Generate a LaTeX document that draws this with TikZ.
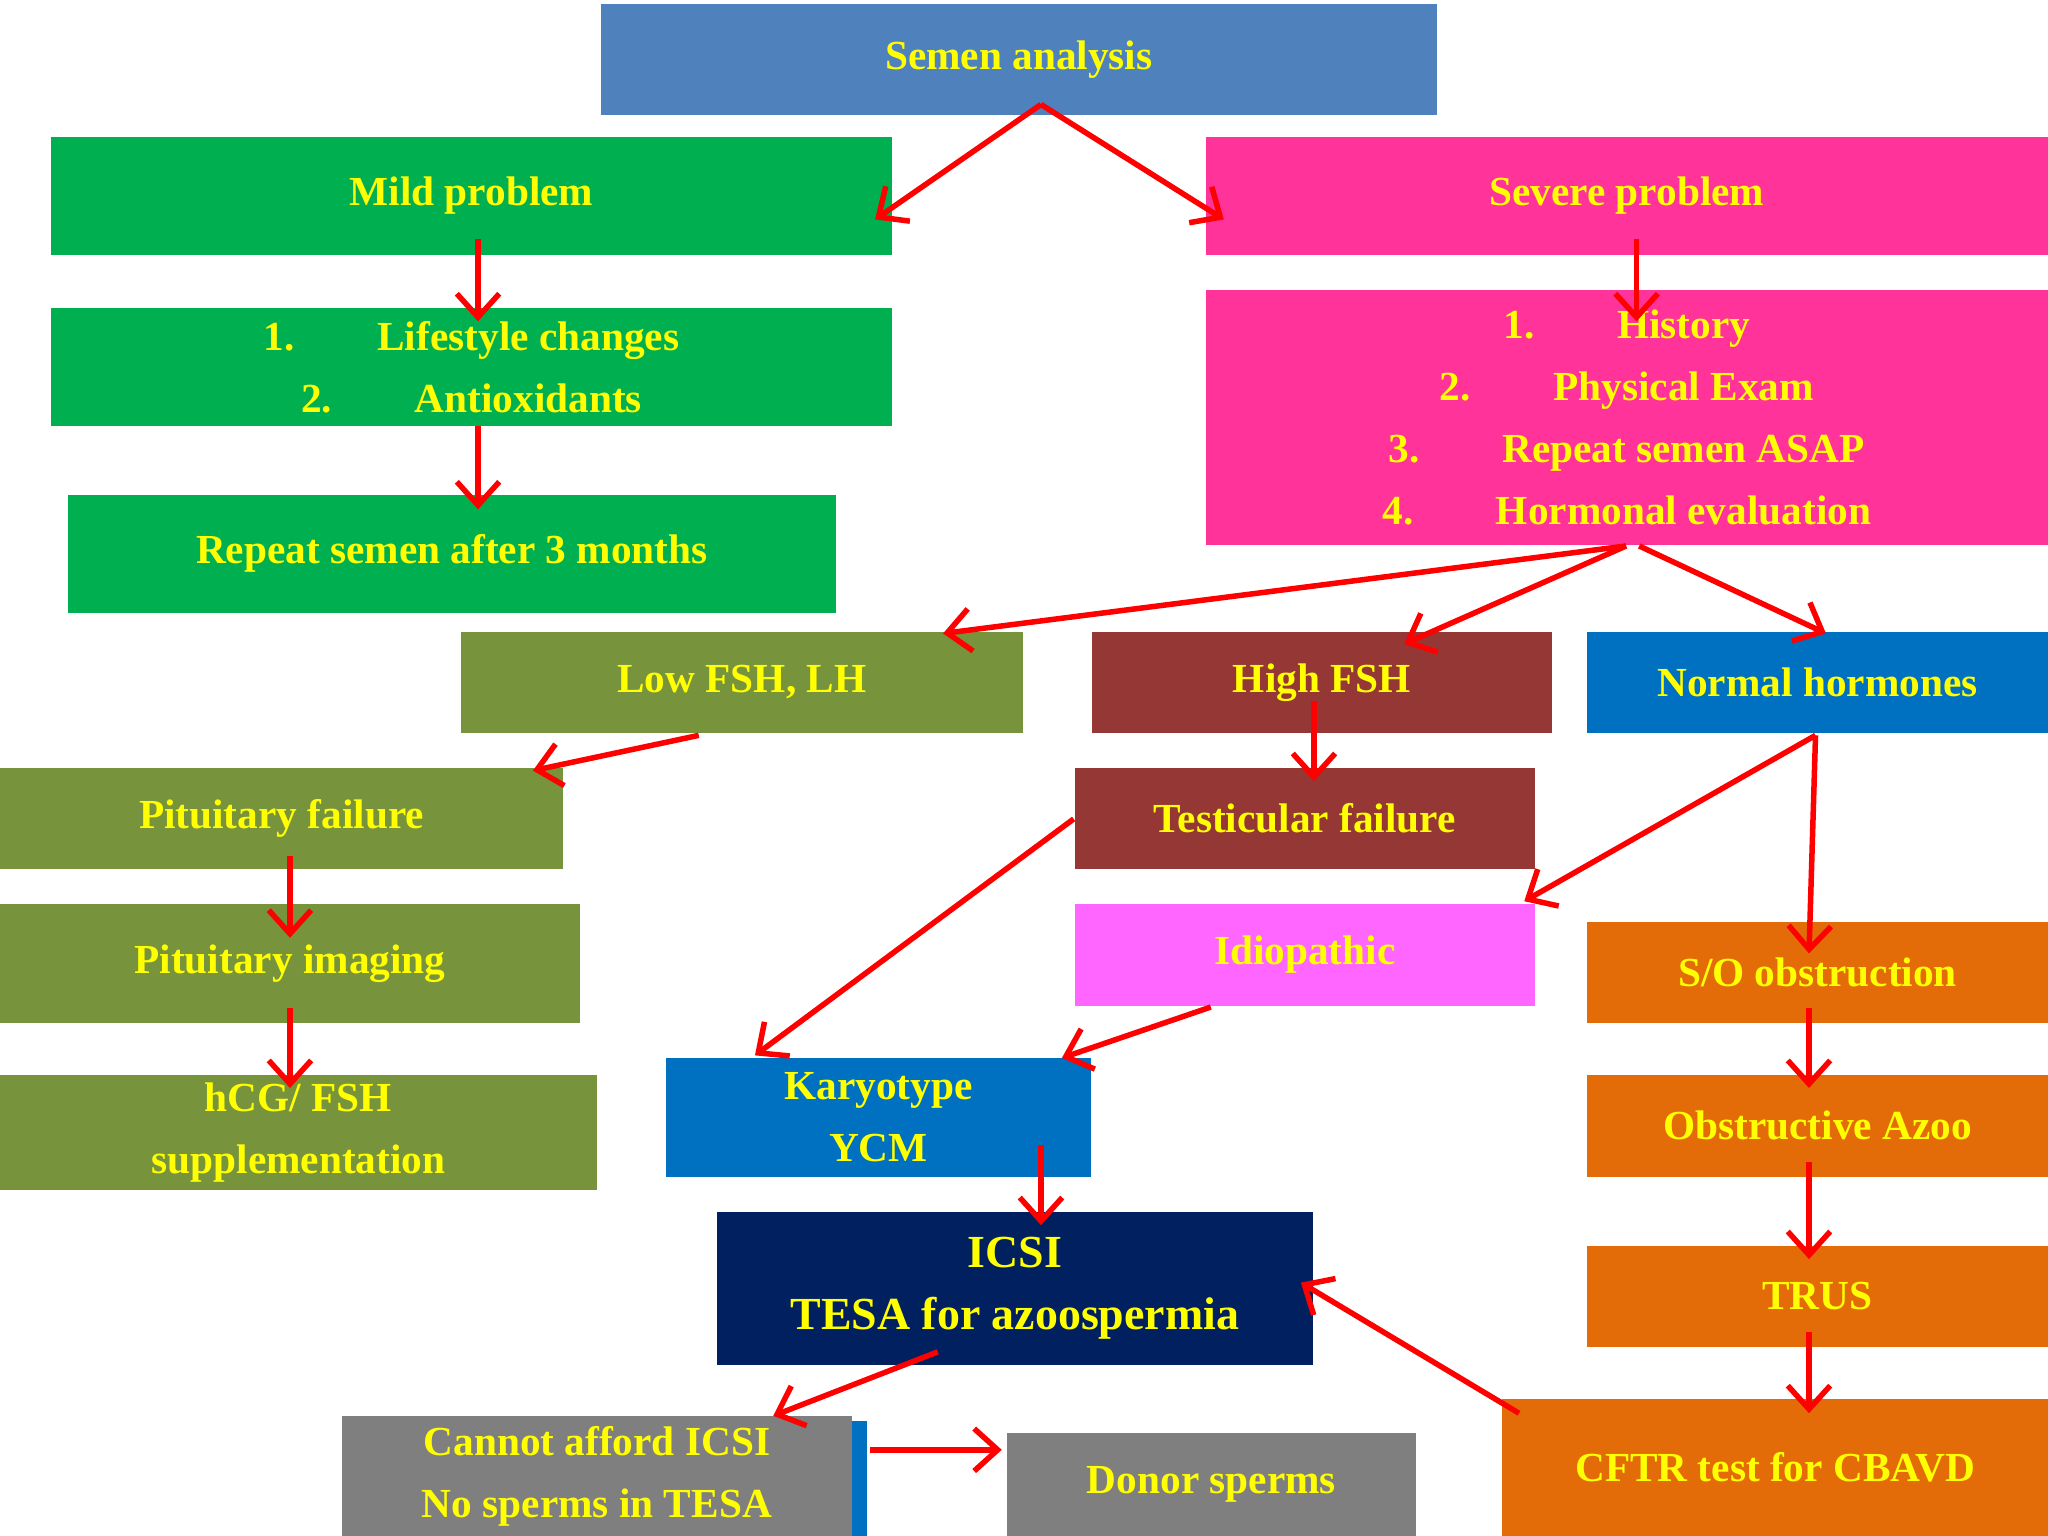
\documentclass[tikz,border=0pt]{standalone}
\usepackage{fontspec}
\setmainfont{Liberation Serif}
\usetikzlibrary{arrows.meta}
\definecolor{cblue}{HTML}{4F81BD}
\definecolor{cgreen}{HTML}{00B050}
\definecolor{cpink}{HTML}{FF3399}
\definecolor{colive}{HTML}{77933C}
\definecolor{cbrown}{HTML}{953735}
\definecolor{cbl}{HTML}{0070C0}
\definecolor{cmag}{HTML}{FF66FF}
\definecolor{corange}{HTML}{E36C09}
\definecolor{cnavy}{HTML}{002060}
\definecolor{cgray}{HTML}{7F7F7F}
\definecolor{cyel}{HTML}{FFFF00}
\newcommand{\bx}[7]{\node[box,fill=#6,minimum width={(#4-#2)*0.02cm},minimum height={(#5-#3)*0.02cm}] (#1) at ({(#2+#4)/2},{(#3+#5)/2}) {#7};}
\tikzset{box/.style={inner sep=0pt,text=cyel,font=\bfseries\fontsize{18}{27}\selectfont,align=center},
arr/.style={draw=red,line width=2.4pt,-{Straight Barb[length=3.6mm,width=6.5mm,line width=2.4pt]}}}
\begin{document}
\begin{tikzpicture}[x=0.02cm,y=-0.02cm]
\useasboundingbox (0,0) rectangle (1568,1176);
\fill[white] (0,0) rectangle (1568,1176);
\bx{semen}{460}{3}{1100}{88}{cblue}{Semen analysis}
\bx{mild}{39}{105}{683}{195}{cgreen}{Mild problem}
\bx{severe}{923}{105}{1568}{195}{cpink}{Severe problem}
\bx{life}{39}{236}{683}{326}{cgreen}{1.\hspace{2em}Lifestyle changes\\2.\hspace{2em}Antioxidants}
\bx{hist}{923}{222}{1568}{417}{cpink}{1.\hspace{2em}History\\2.\hspace{2em}Physical Exam\\3.\hspace{2em}Repeat semen ASAP\\4.\hspace{2em}Hormonal evaluation}
\bx{rep}{52}{379}{640}{469}{cgreen}{Repeat semen after 3 months}
\bx{low}{353}{484}{783}{561}{colive}{Low FSH, LH}
\bx{high}{836}{484}{1188}{561}{cbrown}{High FSH}
\bx{norm}{1215}{484}{1568}{561}{cbl}{Normal hormones}
\bx{pitf}{0}{588}{431}{665}{colive}{Pituitary failure}
\bx{test}{823}{588}{1175}{665}{cbrown}{Testicular failure}
\bx{piti}{0}{692}{444}{783}{colive}{Pituitary imaging}
\bx{idio}{823}{692}{1175}{770}{cmag}{Idiopathic}
\bx{so}{1215}{706}{1568}{783}{corange}{S/O obstruction}
\bx{hcg}{0}{823}{457}{911}{colive}{hCG/ FSH\\supplementation}
\bx{kary}{510}{810}{835}{901}{cbl}{Karyotype\\YCM}
\bx{obs}{1215}{823}{1568}{901}{corange}{Obstructive Azoo}
\bx{icsi}{549}{928}{1005}{1045}{cnavy}{\fontsize{20}{30}\selectfont ICSI\\\fontsize{20}{30}\selectfont TESA for azoospermia}
\bx{trus}{1215}{954}{1568}{1031}{corange}{TRUS}
\fill[cbl] (640,1088) rectangle (664,1176);
\bx{cann}{262}{1084}{652}{1176}{cgray}{Cannot afford ICSI\\No sperms in TESA}
\bx{donor}{771}{1097}{1084}{1176}{cgray}{Donor sperms}
\bx{cftr}{1150}{1071}{1568}{1176}{corange}{CFTR test for CBAVD}
\coordinate (a1) at (797,80); \coordinate (b1) at (670,168); \coordinate (b2) at (937,168);
\draw[arr] (a1) -- (b1); \draw[arr] (a1) -- (b2);
\coordinate (m1) at (366,183); \coordinate (m2) at (366,246);
\coordinate (m3) at (366,326); \coordinate (m4) at (366,390);
\draw[arr] (m1) -- (m2); \draw[arr] (m3) -- (m4);
\coordinate (s1) at (1253,183); \coordinate (s2) at (1253,246);
\draw[arr] (s1) -- (s2);
\coordinate (h0) at (1245,418); \coordinate (h1) at (722,485); \coordinate (h2) at (1075,493);
\coordinate (h3) at (1255,418); \coordinate (h4) at (1398,485);
\draw[arr] (h0) -- (h1); \draw[arr] (h0) -- (h2); \draw[arr] (h3) -- (h4);
\coordinate (l1) at (535,563); \coordinate (l2) at (408,590);
\draw[arr] (l1) -- (l2);
\coordinate (p1) at (222,655); \coordinate (p2) at (222,718);
\coordinate (p3) at (222,772); \coordinate (p4) at (222,833);
\draw[arr] (p1) -- (p2); \draw[arr] (p3) -- (p4);
\coordinate (t1) at (1006,537); \coordinate (t2) at (1006,598);
\draw[arr] (t1) -- (t2);
\coordinate (t3) at (822,627); \coordinate (t4) at (578,808);
\draw[arr] (t3) -- (t4);
\coordinate (n1) at (1390,563); \coordinate (n2) at (1167,690); \coordinate (n3) at (1385,730);
\draw[arr] (n1) -- (n2); \draw[arr] (n1) -- (n3);
\coordinate (i1) at (927,771); \coordinate (i2) at (813,810);
\draw[arr] (i1) -- (i2);
\coordinate (o1) at (1385,772); \coordinate (o2) at (1385,833);
\coordinate (o3) at (1385,890); \coordinate (o4) at (1385,964);
\coordinate (o5) at (1385,1020); \coordinate (o6) at (1385,1082);
\draw[arr] (o1) -- (o2); \draw[arr] (o3) -- (o4); \draw[arr] (o5) -- (o6);
\coordinate (k1) at (797,877); \coordinate (k2) at (797,938);
\draw[arr] (k1) -- (k2);
\coordinate (c1) at (718,1035); \coordinate (c2) at (592,1084);
\draw[arr] (c1) -- (c2);
\coordinate (d1) at (666,1110); \coordinate (d2) at (767,1110);
\draw[arr] (d1) -- (d2);
\coordinate (f1) at (1163,1082); \coordinate (f2) at (996,982);
\draw[arr] (f1) -- (f2);
\end{tikzpicture}
\end{document}
